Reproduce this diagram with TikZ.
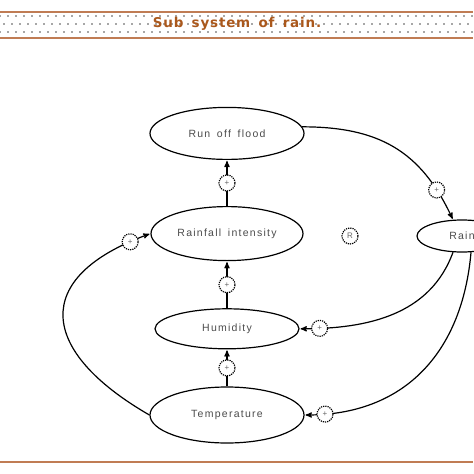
\documentclass[tikz,border=0pt]{standalone}
\usepackage{fontspec}
\usepackage{tikz}
\usetikzlibrary{arrows,shapes.geometric,positioning}

\newfontfamily\varfont[LetterSpace=12,WordSpace=1.6]{Liberation Sans}
\newfontfamily\titlefont[LetterSpace=6,WordSpace=1.5]{DejaVu Sans}
\definecolor{rimbrown}{RGB}{192,124,84}
\definecolor{titlebrown}{RGB}{170,88,28}

\begin{document}
\begin{tikzpicture}[->,>=stealth',shorten >=1pt,line width=1.2pt,x=1pt,y=-1pt,
    var/.style={ellipse,draw,fill=white,font=\varfont\fontsize{10.5}{12}\selectfont,text=black!70},
    plus/.style={circle,draw,densely dotted,fill=white,inner sep=0pt,minimum size=16pt,
                 font=\varfont\fontsize{8}{9}\selectfont,text=black!60}]

\useasboundingbox (0,0) rectangle (474,474);
\clip (0,0) rectangle (474,474);

% title band
\foreach \x in {0,8,...,480} {
    \fill[black!70] (\x,16) circle (0.8);
    \fill[black!70] (\x+4,24) circle (0.8);
    \fill[black!70] (\x,32) circle (0.8);
}
\draw[-,rimbrown,line width=2pt] (0,11.5) -- (474,11.5);
\draw[-,rimbrown,line width=2pt] (0,37.5) -- (474,37.5);
\draw[-,rimbrown,line width=2pt] (0,462) -- (474,462);
\node[font=\titlefont\bfseries\fontsize{13.5}{15}\selectfont,text=titlebrown] (title) at (237,24) {Sub system of rain.};

\node[var,minimum width=154pt,minimum height=56pt] (Temp)  at (227,415)             {Temperature};
\node[var,minimum width=144pt,minimum height=40pt] (Hum)   [above=37pt of Temp]     {Humidity};
\node[var,minimum width=152pt,minimum height=54pt] (Int)   [above=47pt of Hum]      {Rainfall intensity};
\node[var,minimum width=154pt,minimum height=52pt] (Flood) [above=46pt of Int]      {Run off flood};
\node[var,minimum width=90pt,minimum height=32pt]  (Rain)  at (462,236)             {Rain};

\node[plus] (R) at (350,236) {R};

\path
    (Temp) edge node[plus]{+} (Hum)
    (Hum)  edge node[plus]{+} (Int)
    (Int)  edge node[plus]{+} (Flood);

\path
    (Temp.west)  edge[out=150,in=200,looseness=1.8]  node[plus,pos=0.94]{+} (Int.west)
    (Flood.5)    edge[out=0,in=115,looseness=1.1]    node[plus,pos=0.84]{+} (Rain.119)
    (Rain.241)   edge[out=250,in=0,looseness=1]      node[plus,pos=0.9]{+}  (Hum.east)
    (Rain.299)   edge[out=265,in=0,looseness=1.1]    node[plus,pos=0.93]{+} (Temp.east);

\end{tikzpicture}
\end{document}
